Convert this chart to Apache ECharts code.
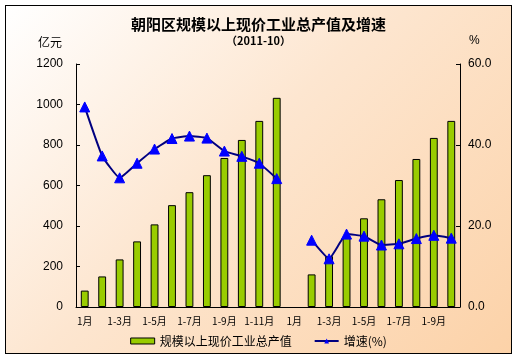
<!DOCTYPE html>
<html>
<head>
<meta charset="utf-8">
<script src="https://cdn.jsdelivr.net/npm/echarts@6/dist/echarts.min.js"></script>
<style>
html,body{margin:0;padding:0;background:#fff;}
#frame{position:absolute;left:5px;top:5px;width:505px;height:347px;border:1px solid #000;
background:linear-gradient(135deg,#ffffff 0%,#fde6d0 45%,#fcd2a8 100%);}
#chart{position:absolute;left:0;top:0;width:517px;height:360px;}
</style>
</head>
<body>
<div id="frame"></div>
<div id="chart"></div>
<script>
const categories = ['1月','1-2月','1-3月','1-4月','1-5月','1-6月','1-7月','1-8月','1-9月','1-10月','1-11月','1-12月',
  '1月','1-2月','1-3月','1-4月','1-5月','1-6月','1-7月','1-8月','1-9月','1-10月'];
const outputValues = [81,151,235,324,408,503,567,651,736,825,919,1033,null,161,251,347,438,532,627,731,835,919];
const growthValues = [49.4,37.3,31.9,35.5,39.0,41.6,42.2,41.7,38.5,37.2,35.5,31.7,null,16.5,11.9,18.0,17.5,15.3,15.6,16.9,17.7,17.0];
const leftTicks = {min:0,max:1200,interval:200};
const rightTicks = {min:0,max:60,interval:20};

const chart = echarts.init(document.getElementById('chart'), null, {renderer:'canvas'});
const cjk = '"Noto Sans CJK SC", sans-serif';
chart.setOption({
  backgroundColor:'transparent',
  animation:false,
  title:{
    text:'朝阳区规模以上现价工业总产值及增速',
    subtext:'（2011-10）',
    left:'center', top:12, itemGap:3,
    textStyle:{fontFamily:cjk,fontSize:15,fontWeight:'bold',color:'#000'},
    subtextStyle:{fontFamily:cjk,fontSize:11,fontWeight:'bold',color:'#000'}
  },
  graphic:[
    {type:'text',left:38,top:36,style:{text:'亿元',font:'12px "Noto Sans CJK SC"',fill:'#000'}},
    {type:'text',left:469,top:35,style:{text:'%',font:'12px "Liberation Sans"',fill:'#000'}}
  ],
  legend:{
    bottom:8, left:'center', itemGap:22,
    textStyle:{fontFamily:cjk,fontSize:12,color:'#000'},
    data:[
      {name:'规模以上现价工业总产值',icon:'rect',itemStyle:{borderColor:'#000',borderWidth:1}},
      {name:'增速(%)'}
    ],
    itemWidth:24,itemHeight:6
  },
  grid:{left:76,right:57,top:64,bottom:53,containLabel:false},
  xAxis:{
    type:'category',data:categories,boundaryGap:true,
    axisLine:{lineStyle:{color:'#000',width:1}},
    axisTick:{inside:true,length:4,interval:0,lineStyle:{color:'#000'}},
    axisLabel:{interval:1,margin:9,fontFamily:cjk,fontSize:10,color:'#000'}
  },
  yAxis:[
    {type:'value',min:leftTicks.min,max:leftTicks.max,interval:leftTicks.interval,
     splitLine:{show:false},
     axisLine:{show:true,lineStyle:{color:'#000'}},
     axisTick:{show:true,inside:true,length:4,lineStyle:{color:'#000'}},
     axisLabel:{margin:13,fontFamily:'"Liberation Sans", Arial',fontSize:12,color:'#000',
       formatter:v=>String(v)}},
    {type:'value',min:rightTicks.min,max:rightTicks.max,interval:rightTicks.interval,position:'right',
     splitLine:{show:false},
     axisLine:{show:true,lineStyle:{color:'#000'}},
     axisTick:{show:true,inside:true,length:4,lineStyle:{color:'#000'}},
     axisLabel:{margin:8,fontFamily:'"Liberation Sans", Arial',fontSize:12,color:'#000',
       formatter:v=>v.toFixed(1)}}
  ],
  series:[
    {name:'规模以上现价工业总产值',type:'bar',data:outputValues,barWidth:'45%',
     itemStyle:{color:'#99cc00',borderColor:'#000',borderWidth:1}},
    {name:'增速(%)',type:'line',yAxisIndex:1,data:growthValues,connectNulls:false,smooth:0.12,
     symbol:'triangle',symbolSize:10,
     lineStyle:{color:'#000080',width:2},
     itemStyle:{color:'#0000ff',borderColor:'#0000ff'}}
  ]
});
</script>
</body>
</html>
